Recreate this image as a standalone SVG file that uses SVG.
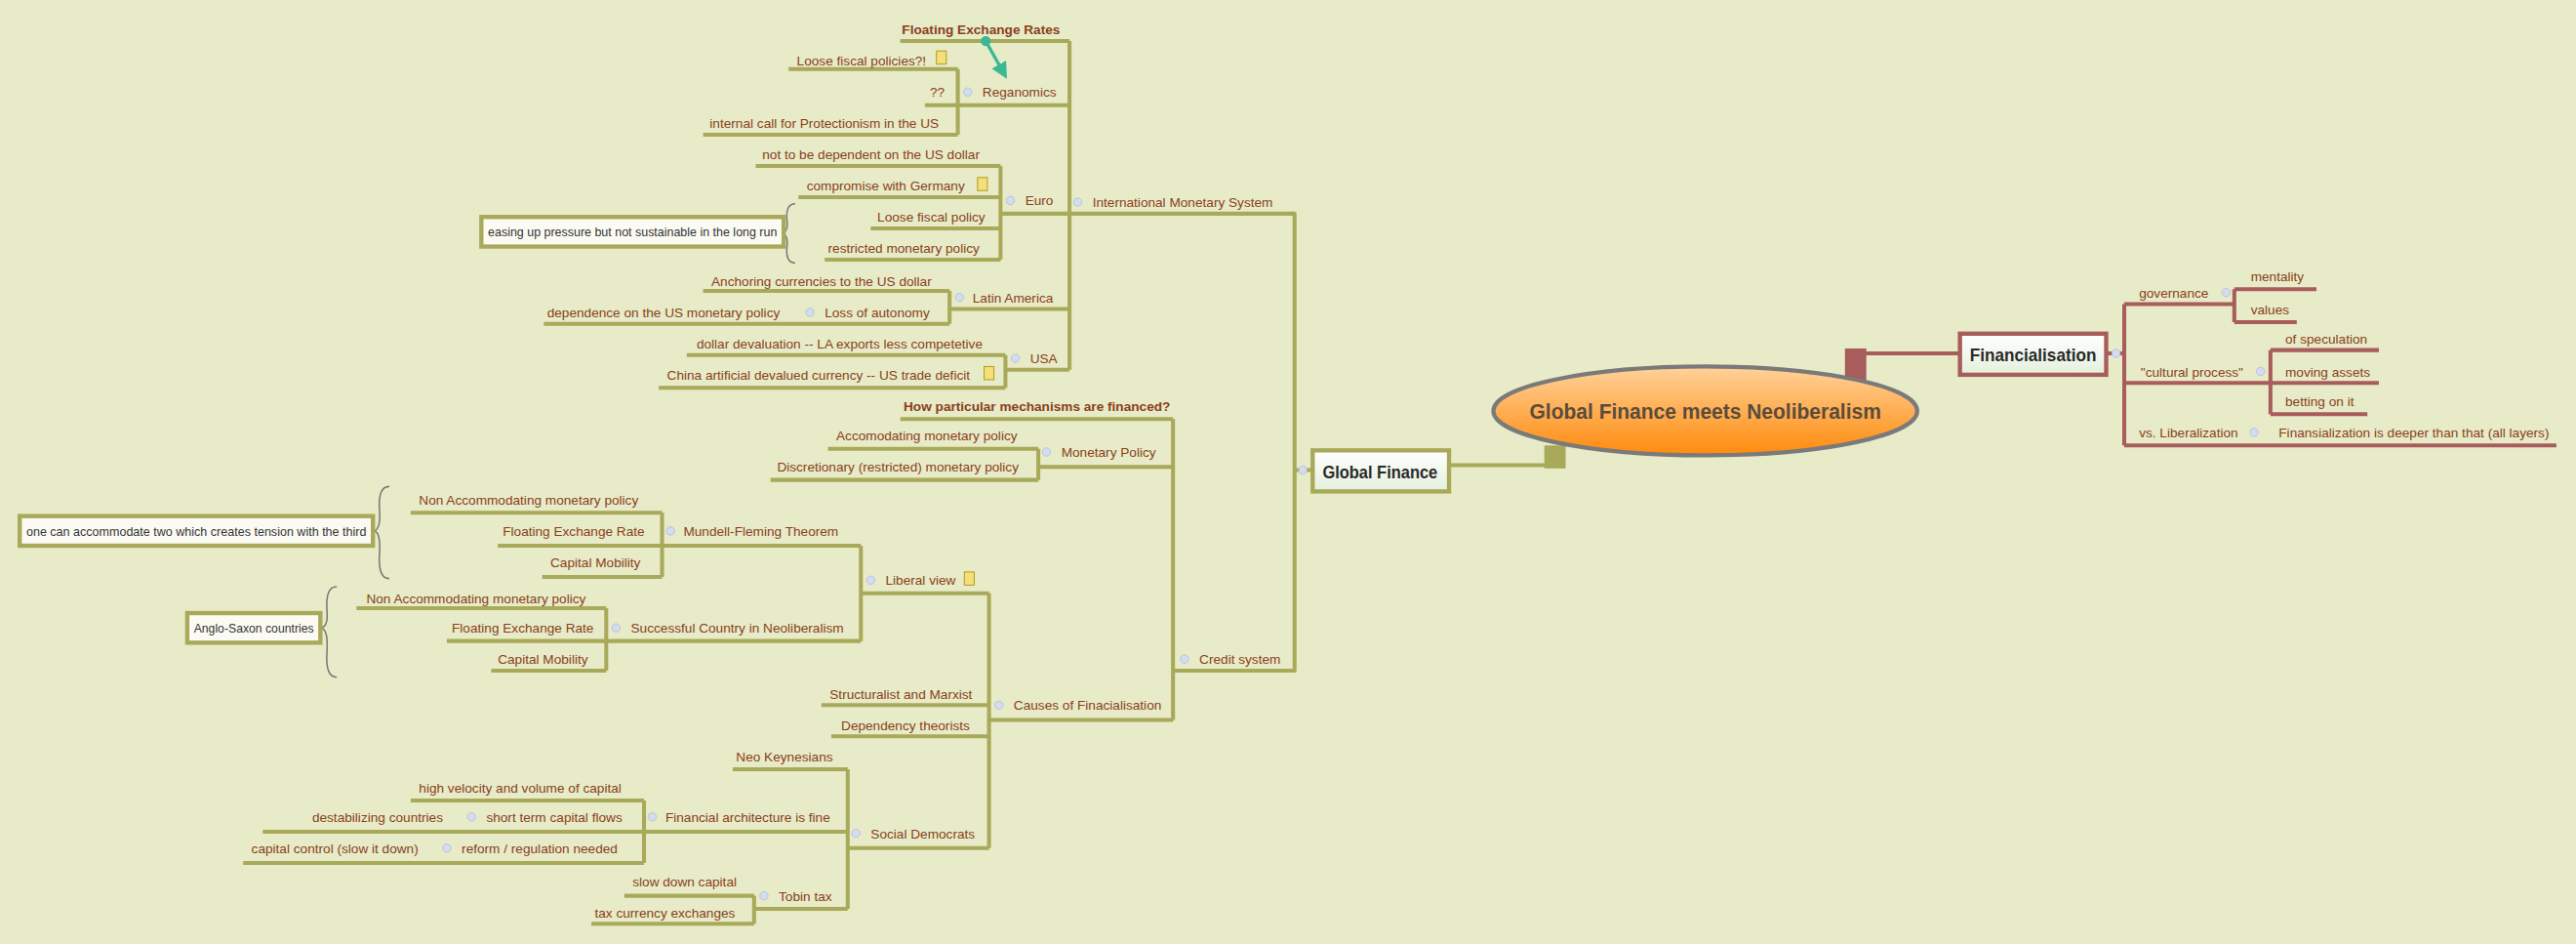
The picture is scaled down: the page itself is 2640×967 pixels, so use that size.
<svg xmlns="http://www.w3.org/2000/svg" width="2640" height="967" viewBox="0 0 2640 967">
<defs>
<style>
.t{font-family:"Liberation Sans",Arial,sans-serif;font-size:8.1px;fill:#8a3f1c}
.b{font-weight:bold}
.l{fill:none;stroke:#a9a95a;stroke-width:2.4;stroke-linejoin:round;stroke-linecap:butt}
.r{fill:none;stroke:#a85c5c;stroke-width:2.4;stroke-linejoin:round}
.box{fill:#fbfbf4;stroke:#a9a95a;stroke-width:2.6}
.br{fill:none;stroke:#777;stroke-width:0.9}
.tg{fill:#d4dcf0;stroke:#b0bcdc;stroke-width:0.5}
.note{fill:#f3e07a;stroke:#b89a20;stroke-width:0.6}
</style>
<linearGradient id="og" x1="0" y1="0" x2="0" y2="1"><stop offset="0" stop-color="#ffd29a"/><stop offset="1" stop-color="#ff8a0c"/></linearGradient>
<linearGradient id="bg" x1="0" y1="0" x2="0" y2="1"><stop offset="0" stop-color="#ffffff"/><stop offset="1" stop-color="#e4f0dc"/></linearGradient>
<marker id="ah" markerWidth="10" markerHeight="10" refX="2" refY="5" orient="auto" markerUnits="userSpaceOnUse"><path d="M0,0 L10,5 L0,10 Z" fill="#3cb894"/></marker>
</defs>
<rect width="2640" height="967" fill="#e7ebc7"/>
<g transform="scale(1.6837)">
<g id="connectors">
<path class="l" d="M945,272 V283 H882"/>
<rect x="940" y="271" width="13" height="14" fill="#a9a95a"/>
<path class="l" d="M651,130 H788 V408 H714 M788,286 H798"/>
<path class="l" d="M651,25 V225 M548,25 H651 M583,64 H651 M583,42 V82 M480,42 H583 M563,64 H583 M428,82 H583"/>
<path class="l" d="M609,130 H651 M609,101 V158 M460,101 H609 M486,120 H609 M530,139 H609 M502,158 H609"/>
<path class="l" d="M578,188 H651 M578,177 V197 M428,177 H578 M331,197 H578"/>
<path class="l" d="M612,225 H651 M612,216 V236 M418,216 H612 M401,236 H612"/>
<path class="l" d="M714,255 V438 M548,255 H714 M632,284 H714 M632,273 V292 M504,273 H632 M469,292 H632"/>
<path class="l" d="M602,438 H714 M602,361 V516 M524,361 H602 M524,332 V390"/>
<path class="l" d="M403,332 H524 M403,312 V351 M250,312 H403 M303,332 H403 M330,351 H403"/>
<path class="l" d="M369,390 H524 M369,370 V408 M217,370 H369 M272,390 H369 M299,408 H369"/>
<path class="l" d="M500,429 H602 M506,448 H602 M516,516 H602 M516,468 V553 M446,468 H516"/>
<path class="l" d="M392,506 H516 M392,487 V525 M250,487 H392 M160,506 H392 M148,525 H392"/>
<path class="l" d="M459,553 H516 M459,545 V562 M380,545 H459 M360,562 H459"/>
<rect x="1123" y="212" width="13" height="19" fill="#a85c5c"/>
<path class="r" d="M1129,215 H1193 M1282,215 H1293 M1293,185 V271"/>
<path class="r" d="M1293,185 H1360 M1360,176 V196 M1360,176 H1410 M1360,196 H1398"/>
<path class="r" d="M1293,233 H1382 M1382,213 V252 M1382,213 H1448 M1382,233 H1448 M1382,252 H1441"/>
<path class="r" d="M1293,271 H1556"/>
<path d="M484,124 Q478,124 479,134 Q480,142 475,142 Q480,142 479,150 Q478,160 484,160" class="br"/>
<path d="M237,296 Q230,296 231,310 Q232,323 227,323 Q232,323 231,337 Q230,352 237,352" class="br"/>
<path d="M205,357 Q198,357 199,371 Q200,382 195,382 Q200,382 199,397 Q198,412 205,412" class="br"/>
<circle cx="600" cy="25" r="3" fill="#3cb894"/>
<path d="M600,25 L609,41" stroke="#3cb894" stroke-width="2" fill="none" marker-end="url(#ah)"/>
</g>
<g id="root"><ellipse cx="1038" cy="250" rx="129" ry="27" fill="url(#og)" stroke="#7a7a7a" stroke-width="2.5"/><text x="931" y="255" textLength="214" lengthAdjust="spacingAndGlyphs" class="t b" style="font-size:13.5px;fill:#5a4c3c">Global Finance meets Neoliberalism</text></g>
<g id="global-finance"><rect x="799" y="274" width="83" height="25" fill="url(#bg)" stroke="#a9a95a" stroke-width="2.6"/><text x="805" y="291" textLength="70" lengthAdjust="spacingAndGlyphs" class="t b" style="font-size:10.5px;fill:#2a2a2a">Global Finance</text><circle cx="793" cy="286" r="2.5" class="tg"/></g>
<g id="financialisation"><rect x="1193" y="203" width="89" height="25" fill="url(#bg)" stroke="#a85c5c" stroke-width="2.6"/><text x="1199" y="220" textLength="77" lengthAdjust="spacingAndGlyphs" class="t b" style="font-size:10.5px;fill:#2a2a2a">Financialisation</text><circle cx="1288" cy="215" r="2.5" class="tg"/></g>
<g id="ims"><text x="665" y="126" class="t">International Monetary System</text><circle cx="656" cy="123" r="2.5" class="tg"/></g>
<g id="credit"><text x="730" y="404" class="t">Credit system</text><circle cx="721" cy="401" r="2.5" class="tg"/></g>
<g id="fer"><text x="549" y="21" class="t b">Floating Exchange Rates</text></g>
<g id="reganomics"><text x="598" y="59" class="t">Reganomics</text><circle cx="589" cy="56" r="2.5" class="tg"/></g>
<g id="loose1"><text x="485" y="40" class="t">Loose fiscal policies?!</text><rect x="570" y="31" width="6" height="8" class="note"/></g>
<g id="qq"><text x="566" y="59" class="t">??</text></g>
<g id="protect"><text x="432" y="78" class="t">internal call for Protectionism in the US</text></g>
<g id="euro"><text x="624" y="125" class="t">Euro</text><circle cx="615" cy="122" r="2.5" class="tg"/></g>
<g id="notdep"><text x="464" y="97" class="t">not to be dependent on the US dollar</text></g>
<g id="compromise"><text x="491" y="116" class="t">compromise with Germany</text><rect x="595" y="108" width="6" height="8" class="note"/></g>
<g id="loose2"><text x="534" y="135" class="t">Loose fiscal policy</text></g>
<g id="restricted"><text x="504" y="154" class="t">restricted monetary policy</text></g>
<g id="easing"><rect x="293" y="132" width="184" height="18" class="box"/><text x="297" y="144" textLength="176" lengthAdjust="spacingAndGlyphs" class="t" style="fill:#333">easing up pressure but not sustainable in the long run</text></g>
<g id="latam"><text x="592" y="184" class="t">Latin America</text><circle cx="584" cy="181" r="2.5" class="tg"/></g>
<g id="anchor"><text x="433" y="174" class="t">Anchoring currencies to the US dollar</text></g>
<g id="autonomy"><text x="502" y="193" class="t">Loss of autonomy</text><circle cx="493" cy="190" r="2.5" class="tg"/></g>
<g id="dependence"><text x="333" y="193" class="t">dependence on the US monetary policy</text></g>
<g id="usa"><text x="627" y="221" class="t">USA</text><circle cx="618" cy="218" r="2.5" class="tg"/></g>
<g id="devaluation"><text x="424" y="212" class="t">dollar devaluation -- LA exports less competetive</text></g>
<g id="china"><text x="406" y="231" class="t">China artificial devalued currency -- US trade deficit</text><rect x="599" y="223" width="6" height="8" class="note"/></g>
<g id="how"><text x="550" y="250" class="t b">How particular mechanisms are financed?</text></g>
<g id="monetary"><text x="646" y="278" class="t">Monetary Policy</text><circle cx="637" cy="275" r="2.5" class="tg"/></g>
<g id="accom"><text x="509" y="268" class="t">Accomodating monetary policy</text></g>
<g id="discr"><text x="473" y="287" class="t">Discretionary (restricted) monetary policy</text></g>
<g id="causes"><text x="617" y="432" class="t">Causes of Finacialisation</text><circle cx="608" cy="429" r="2.5" class="tg"/></g>
<g id="liberal"><text x="539" y="356" class="t">Liberal view</text><circle cx="530" cy="353" r="2.5" class="tg"/><rect x="587" y="348" width="6" height="8" class="note"/></g>
<g id="mundell"><text x="416" y="326" class="t">Mundell-Fleming Theorem</text><circle cx="408" cy="323" r="2.5" class="tg"/></g>
<g id="nonacc1"><text x="255" y="307" class="t">Non Accommodating monetary policy</text></g>
<g id="fer1"><text x="306" y="326" class="t">Floating Exchange Rate</text></g>
<g id="cm1"><text x="335" y="345" class="t">Capital Mobility</text></g>
<g id="onecan"><rect x="12" y="314" width="215" height="18" class="box"/><text x="16" y="326" textLength="207" lengthAdjust="spacingAndGlyphs" class="t" style="fill:#333">one can accommodate two which creates tension with the third</text></g>
<g id="successful"><text x="384" y="385" class="t">Successful Country in Neoliberalism</text><circle cx="375" cy="382" r="2.5" class="tg"/></g>
<g id="nonacc2"><text x="223" y="367" class="t">Non Accommodating monetary policy</text></g>
<g id="fer2"><text x="275" y="385" class="t">Floating Exchange Rate</text></g>
<g id="cm2"><text x="303" y="404" class="t">Capital Mobility</text></g>
<g id="anglo"><rect x="114" y="373" width="81" height="18" class="box"/><text x="118" y="385" textLength="73" lengthAdjust="spacingAndGlyphs" class="t" style="fill:#333">Anglo-Saxon countries</text></g>
<g id="struct"><text x="505" y="425" class="t">Structuralist and Marxist</text></g>
<g id="dep"><text x="512" y="444" class="t">Dependency theorists</text></g>
<g id="social"><text x="530" y="510" class="t">Social Democrats</text><circle cx="521" cy="507" r="2.5" class="tg"/></g>
<g id="neo"><text x="448" y="463" class="t">Neo Keynesians</text></g>
<g id="finarch"><text x="405" y="500" class="t">Financial architecture is fine</text><circle cx="397" cy="497" r="2.5" class="tg"/></g>
<g id="highvel"><text x="255" y="482" class="t">high velocity and volume of capital</text></g>
<g id="shortterm"><text x="296" y="500" class="t">short term capital flows</text><circle cx="287" cy="497" r="2.5" class="tg"/></g>
<g id="destab"><text x="190" y="500" class="t">destabilizing countries</text></g>
<g id="reform"><text x="281" y="519" class="t">reform / regulation needed</text><circle cx="272" cy="516" r="2.5" class="tg"/></g>
<g id="capctl"><text x="153" y="519" class="t">capital control (slow it down)</text></g>
<g id="tobin"><text x="474" y="548" class="t">Tobin tax</text><circle cx="465" cy="545" r="2.5" class="tg"/></g>
<g id="slow"><text x="385" y="539" class="t">slow down capital</text></g>
<g id="taxcur"><text x="362" y="558" class="t">tax currency exchanges</text></g>
<g id="governance"><text x="1302" y="181" class="t">governance</text><circle cx="1355" cy="178" r="2.5" class="tg"/></g>
<g id="mentality"><text x="1370" y="171" class="t">mentality</text></g>
<g id="values"><text x="1370" y="191" class="t">values</text></g>
<g id="cultural"><text x="1303" y="229" class="t">"cultural process"</text><circle cx="1376" cy="226" r="2.5" class="tg"/></g>
<g id="specul"><text x="1391" y="209" class="t">of speculation</text></g>
<g id="moving"><text x="1391" y="229" class="t">moving assets</text></g>
<g id="betting"><text x="1391" y="247" class="t">betting on it</text></g>
<g id="vslib"><text x="1302" y="266" class="t">vs. Liberalization</text><circle cx="1372" cy="263" r="2.5" class="tg"/></g>
<g id="deeper"><text x="1387" y="266" class="t">Finansialization is deeper than that (all layers)</text></g>
</g>
</svg>
